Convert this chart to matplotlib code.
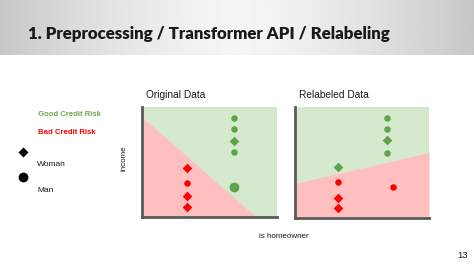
import numpy as np
import matplotlib
matplotlib.use("Agg")
import matplotlib.pyplot as plt

W, H = 474, 266
DPI = 100

# ---- data ----
title = "1. Preprocessing / Transformer API / Relabeling"
panel_titles = ["Original Data", "Relabeled Data"]
xlabel = "is homeowner"
ylabel = "income"
legend_labels = ["Good Credit Risk", "Bad Credit Risk", "Woman", "Man"]
page = "13"

# Original data: x, y, label (1 good / 0 bad), marker (D woman / o man), size
orig_x = [6.8, 6.8, 6.8, 6.8, 6.8, 3.3, 3.3, 3.3, 3.3]
orig_y = [9.0, 8.0, 6.9, 5.9, 2.7, 4.45, 3.1, 1.9, 0.9]
orig_lab = [1, 1, 1, 1, 1, 0, 0, 0, 0]
orig_mk = ["o", "o", "D", "o", "o", "D", "o", "D", "D"]
orig_big = [0, 0, 0, 0, 1, 0, 0, 0, 0]
orig_boundary_x = [0.0, 8.44]
orig_boundary_y = [9.1, 0.0]

rel_x = [6.9, 6.9, 6.9, 6.9, 3.2, 3.2, 7.3, 3.2, 3.2]
rel_y = [9.0, 8.0, 7.0, 5.9, 4.6, 3.2, 2.8, 1.8, 0.9]
rel_lab = [1, 1, 1, 1, 1, 0, 0, 0, 0]
rel_mk = ["o", "o", "D", "o", "D", "o", "o", "D", "D"]
rel_big = [0, 0, 0, 0, 0, 0, 0, 0, 0]
rel_boundary_x = [0.0, 10.0]
rel_boundary_y = [3.1, 5.9]

GREEN_BG = "#d5e9cd"
RED_BG = "#ffbfbf"
GREEN = "#62a04b"
RED = "#ff0000"
SPINE = "#5a5a5a"

fig = plt.figure(figsize=(W / DPI, H / DPI), dpi=DPI)
fig.patch.set_facecolor("white")

# background / overlay axes in pixel coords
bg = fig.add_axes([0, 0, 1, 1])
bg.set_xlim(0, W)
bg.set_ylim(H, 0)
bg.axis("off")
xs = np.linspace(-1, 1, 300)
grad = 0.78 + 0.18 * (1 - np.abs(xs) ** 1.5)
bg.imshow(np.tile(grad, (10, 1)), cmap="gray", vmin=0, vmax=1,
          extent=[0, W, 55, 0], aspect="auto", zorder=0)
bg.set_xlim(0, W)
bg.set_ylim(H, 0)
bg.text(28, 34, title, fontsize=12.2, fontweight="heavy", family="Lato",
        color="#1a1a1a", va="center", ha="left")

def px_axes(x0, y0, x1, y1):
    return fig.add_axes([x0 / W, 1 - y1 / H, (x1 - x0) / W, (y1 - y0) / H])

def draw_panel(ax, xs_, ys_, labs, mks, bigs, bx, by, ttl):
    ax.set_xlim(0, 10)
    ax.set_ylim(0, 10)
    ax.set_facecolor(GREEN_BG)
    # red region below boundary line
    xx = np.linspace(0, 10, 200)
    yy = np.interp(xx, bx, by, left=np.nan, right=np.nan)
    if bx[-1] < 10:
        yy = np.where(xx > bx[-1], 0.0, yy)
    ax.fill_between(xx, 0, yy, color=RED_BG, lw=0, zorder=1)
    for x, y, l, m, b in zip(xs_, ys_, labs, mks, bigs):
        if m == "o":
            s = 50 if b else 22
        else:
            s = 24
        ax.scatter([x], [y], marker=m, s=s, color=GREEN if l else RED,
                   lw=0, zorder=3)
    for side in ["top", "right"]:
        ax.spines[side].set_visible(False)
    for side in ["left", "bottom"]:
        ax.spines[side].set_color(SPINE)
        ax.spines[side].set_linewidth(2)
    ax.set_xticks([])
    ax.set_yticks([])
    ax.text(0.03, 1.06, ttl, transform=ax.transAxes, fontsize=7.3,
            family="Liberation Sans", color="#1a1a1a", va="bottom", ha="left")

ax1 = px_axes(142, 107, 277, 217)
draw_panel(ax1, orig_x, orig_y, orig_lab, orig_mk, orig_big,
           orig_boundary_x, orig_boundary_y, panel_titles[0])
ax2 = px_axes(295, 107, 429, 218)
draw_panel(ax2, rel_x, rel_y, rel_lab, rel_mk, rel_big,
           rel_boundary_x, rel_boundary_y, panel_titles[1])

bg.text(124, 158, ylabel, rotation=90, fontsize=5.8, family="Liberation Sans",
        color="#1a1a1a", ha="center", va="center")
bg.text(284, 236, xlabel, fontsize=5.8, family="Liberation Sans",
        color="#1a1a1a", ha="center", va="center")

# legend
bg.text(38, 114, legend_labels[0], fontsize=5.6, fontweight="bold",
        family="Liberation Sans", color="#6aa84f", va="center")
bg.text(38, 133, legend_labels[1], fontsize=5.6, fontweight="bold",
        family="Liberation Sans", color=RED, va="center")
bg.scatter([23], [152], marker="D", s=26, color="black", lw=0)
bg.text(37, 164, legend_labels[2], fontsize=6.0, family="Liberation Sans",
        color="#1a1a1a", va="center")
bg.scatter([23], [177], marker="o", s=50, color="black", lw=0)
bg.text(37, 190, legend_labels[3], fontsize=6.0, family="Liberation Sans",
        color="#1a1a1a", va="center")
bg.text(468, 255, page, fontsize=6.8, family="Liberation Sans",
        color="#1a1a1a", va="center", ha="right")

fig.savefig("out.png", dpi=DPI)
